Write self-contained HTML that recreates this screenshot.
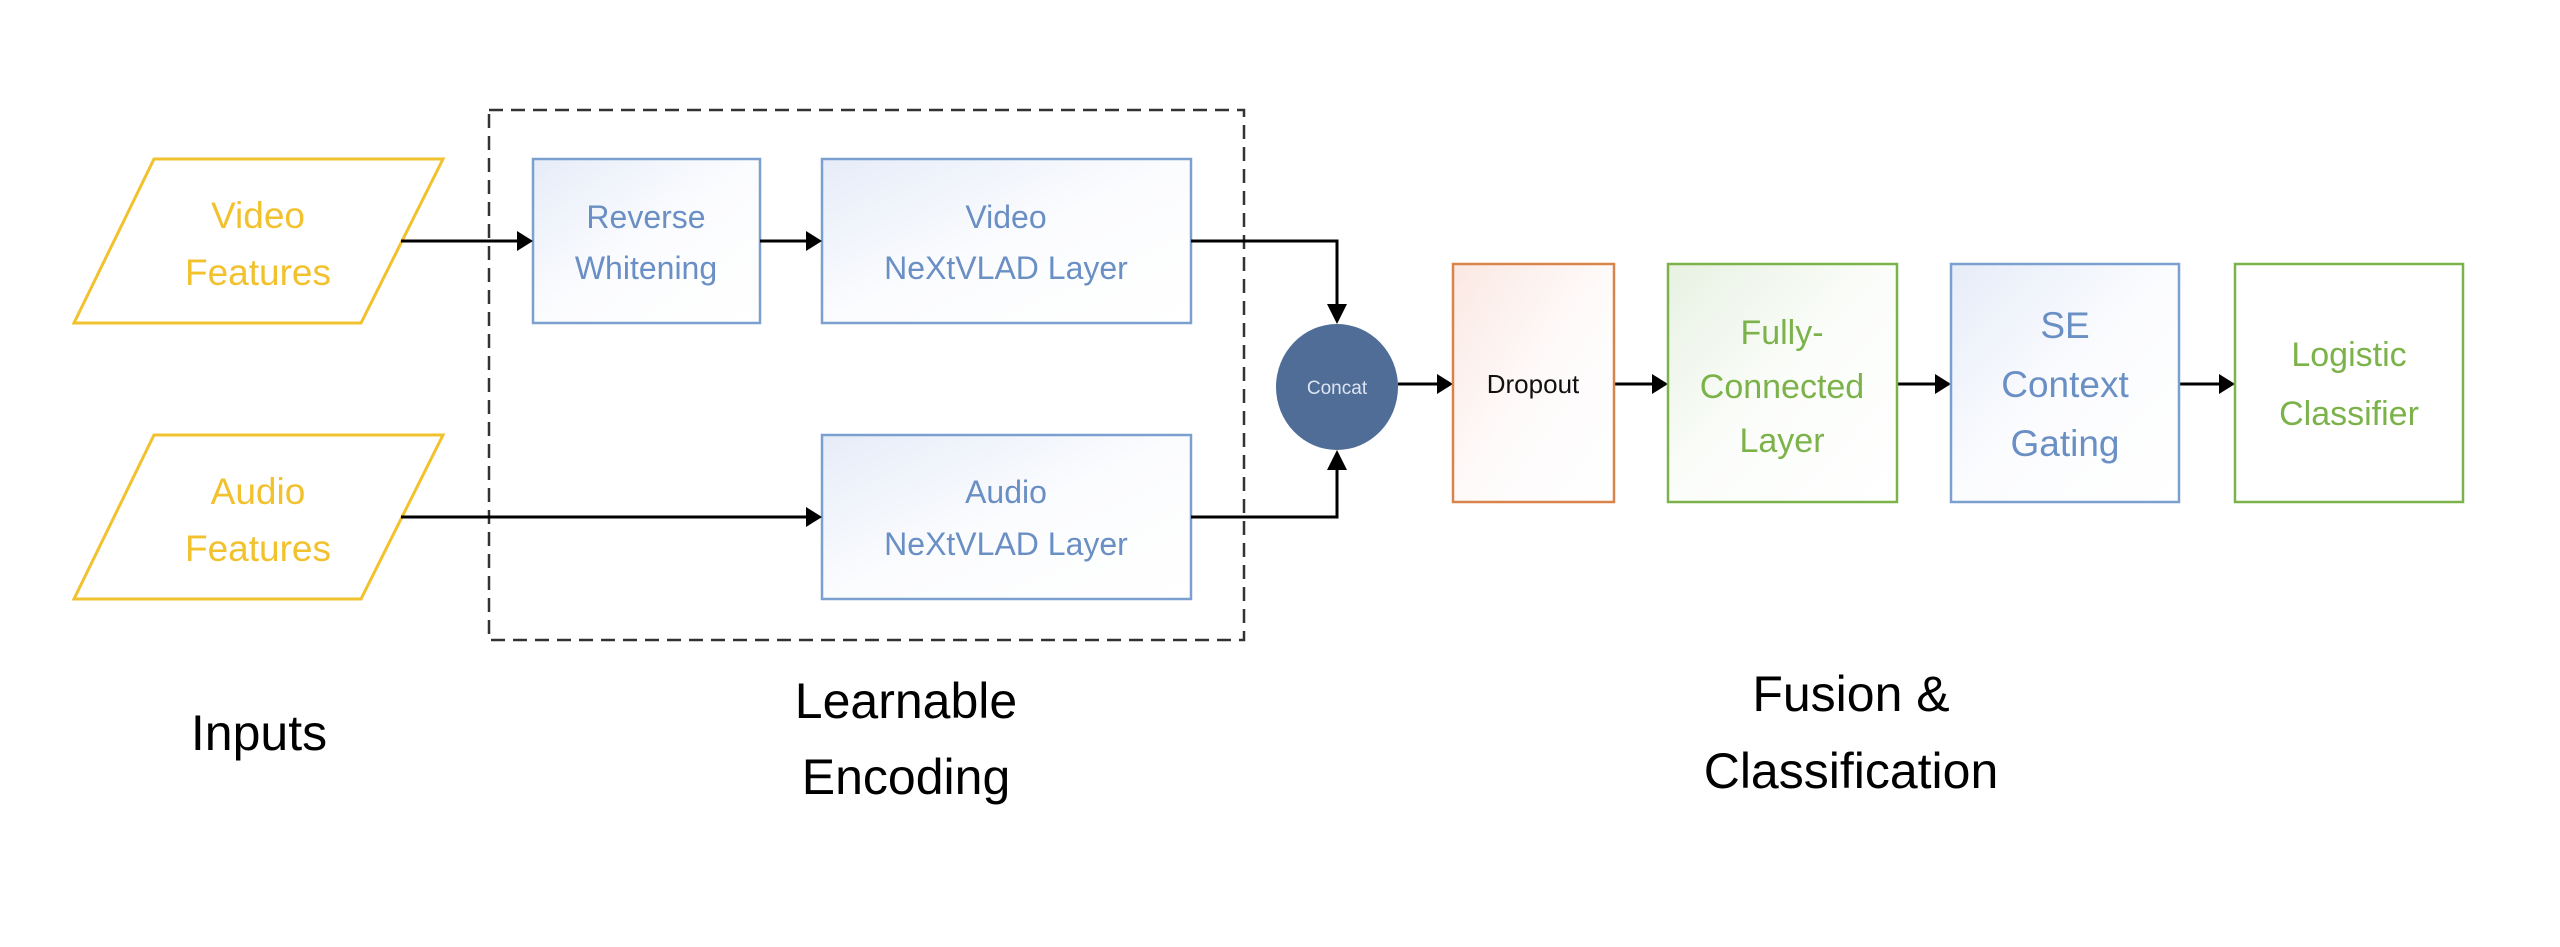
<!DOCTYPE html>
<html><head><meta charset="utf-8"><style>
html,body{margin:0;padding:0;background:#fff;}
svg{display:block;}
text{font-family:"Liberation Sans",sans-serif;text-anchor:middle;}
</style></head><body>
<svg width="2560" height="947" viewBox="0 0 2560 947" xmlns="http://www.w3.org/2000/svg">
<defs>
<linearGradient id="gb" x1="0" y1="0" x2="1" y2="1"><stop offset="0" stop-color="#e6ecf8"/><stop offset="0.5" stop-color="#fbfcfe"/><stop offset="1" stop-color="#fff"/></linearGradient>
<linearGradient id="go" x1="0" y1="0" x2="1" y2="1"><stop offset="0" stop-color="#fbe8e2"/><stop offset="0.5" stop-color="#fefafa"/><stop offset="1" stop-color="#fff"/></linearGradient>
<linearGradient id="gg" x1="0" y1="0" x2="1" y2="1"><stop offset="0" stop-color="#e8f1e2"/><stop offset="0.5" stop-color="#fbfdfa"/><stop offset="1" stop-color="#fff"/></linearGradient>
</defs>
<polygon points="154,159 443,159 361,323 74,323" fill="#fff" stroke="#f2c12e" stroke-width="3"/>
<polygon points="154,435 443,435 361,599 74,599" fill="#fff" stroke="#f2c12e" stroke-width="3"/>
<g fill="#f2c12e" font-size="37"><text x="258" y="228">Video</text><text x="258" y="285">Features</text>
<text x="258" y="504">Audio</text><text x="258" y="561">Features</text></g>
<rect x="489" y="110" width="755" height="530" fill="none" stroke="#333" stroke-width="2.5" stroke-dasharray="14,8"/>
<rect x="533" y="159" width="227" height="164" fill="url(#gb)" stroke="#7ba0d0" stroke-width="2.5"/>
<rect x="822" y="159" width="369" height="164" fill="url(#gb)" stroke="#7ba0d0" stroke-width="2.5"/>
<rect x="822" y="435" width="369" height="164" fill="url(#gb)" stroke="#7ba0d0" stroke-width="2.5"/>
<g fill="#6a8fc4" font-size="32"><text x="646" y="228">Reverse</text><text x="646" y="279">Whitening</text>
<text x="1006" y="228">Video</text><text x="1006" y="279">NeXtVLAD Layer</text>
<text x="1006" y="503">Audio</text><text x="1006" y="555">NeXtVLAD Layer</text></g>
<g stroke="#000" stroke-width="3" fill="none">
<line x1="401" y1="241" x2="520" y2="241"/>
<line x1="760" y1="241" x2="810" y2="241"/>
<line x1="401" y1="517" x2="810" y2="517"/>
<polyline points="1191,241 1337,241 1337,306"/>
<polyline points="1191,517 1337,517 1337,468"/>
<line x1="1398" y1="384" x2="1440" y2="384"/>
<line x1="1614" y1="384" x2="1655" y2="384"/>
<line x1="1897" y1="384" x2="1938" y2="384"/>
<line x1="2179" y1="384" x2="2222" y2="384"/>
</g>
<g fill="#000">
<polygon points="533,241 517,231 517,251"/>
<polygon points="822,241 806,231 806,251"/>
<polygon points="822,517 806,507 806,527"/>
<polygon points="1337,324 1327,304 1347,304"/>
<polygon points="1337,450 1327,470 1347,470"/>
<polygon points="1453,384 1437,374 1437,394"/>
<polygon points="1668,384 1652,374 1652,394"/>
<polygon points="1951,384 1935,374 1935,394"/>
<polygon points="2235,384 2219,374 2219,394"/>
</g>
<ellipse cx="1337" cy="387" rx="61" ry="63" fill="#4f6d96"/>
<text x="1337" y="394" fill="#dde5f0" font-size="19">Concat</text>
<rect x="1453" y="264" width="161" height="238" fill="url(#go)" stroke="#d9844a" stroke-width="2.5"/>
<rect x="1668" y="264" width="229" height="238" fill="url(#gg)" stroke="#7cb24a" stroke-width="2.5"/>
<rect x="1951" y="264" width="228" height="238" fill="url(#gb)" stroke="#7ba0d0" stroke-width="2.5"/>
<rect x="2235" y="264" width="228" height="238" fill="#fff" stroke="#7cb24a" stroke-width="2.5"/>
<text x="1533" y="393" fill="#111" font-size="26">Dropout</text>
<g fill="#7cb24a" font-size="34"><text x="1782" y="344">Fully-</text><text x="1782" y="398">Connected</text><text x="1782" y="452">Layer</text>
<text x="2349" y="366">Logistic</text><text x="2349" y="425">Classifier</text></g>
<g fill="#6a8fc4" font-size="37"><text x="2065" y="338">SE</text><text x="2065" y="397">Context</text><text x="2065" y="456">Gating</text></g>
<g fill="#000" font-size="50"><text x="259" y="750">Inputs</text>
<text x="906" y="718">Learnable</text><text x="906" y="794">Encoding</text>
<text x="1851" y="711">Fusion &amp;</text><text x="1851" y="788">Classification</text></g>
</svg>
</body></html>
